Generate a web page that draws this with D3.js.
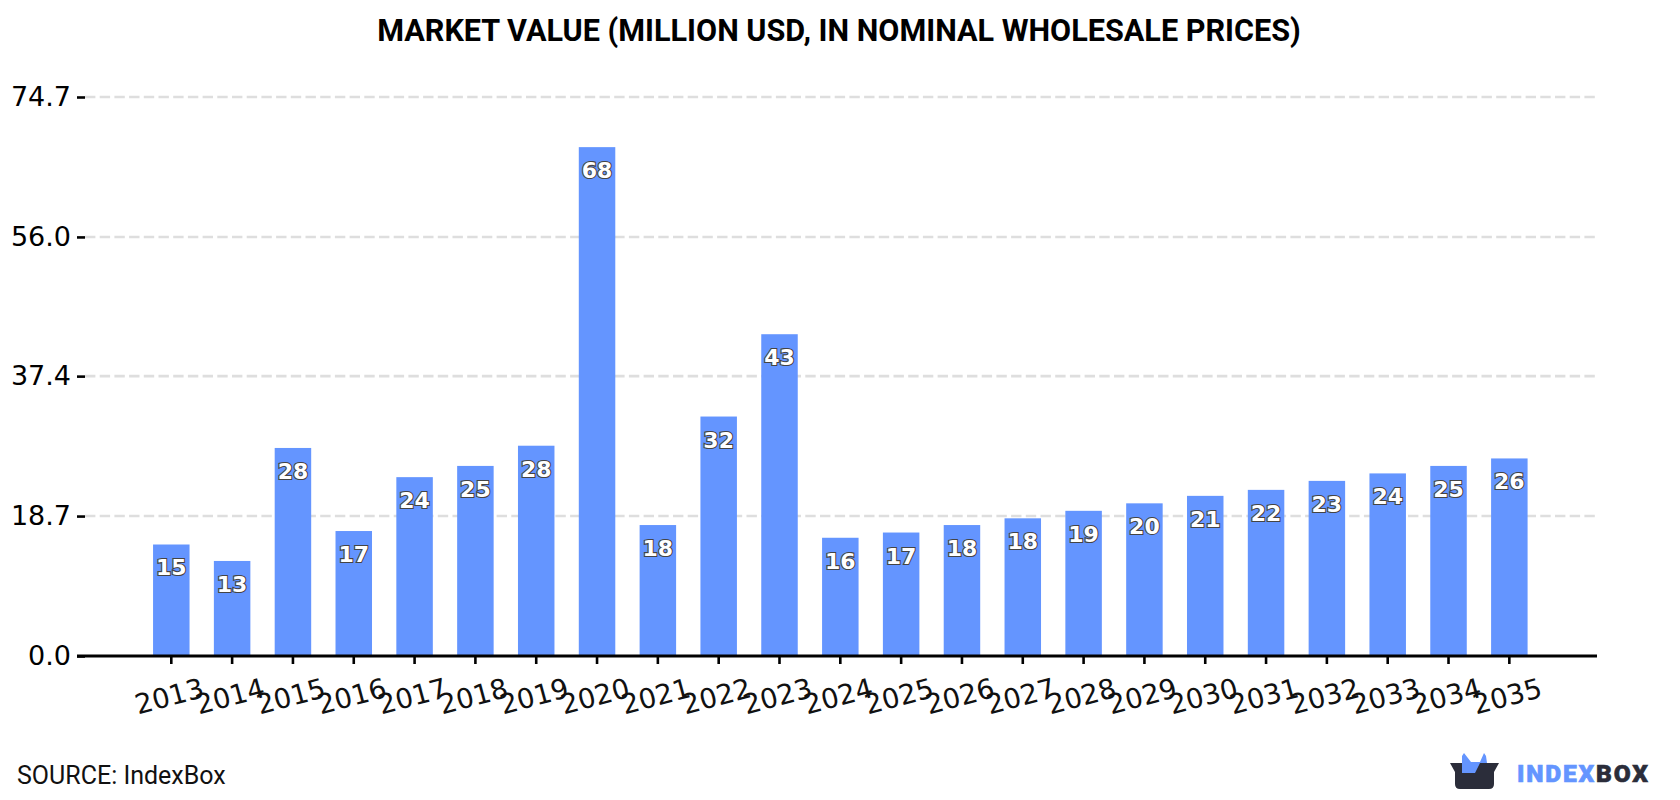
<!DOCTYPE html>
<html>
<head>
<meta charset="utf-8">
<script src="https://cdnjs.cloudflare.com/ajax/libs/d3/7.8.5/d3.min.js"></script>
<style>
  html, body { margin: 0; padding: 0; background: #fff; }
  svg { display: block; }
  .num { font-family: "DejaVu Sans", sans-serif; }
  .rob { font-family: Roboto, sans-serif; }
</style>
</head>
<body>
<svg id="chart" width="1680" height="800"></svg>
<script>
// Market value by year, million USD
const years = ["2013","2014","2015","2016","2017","2018","2019","2020","2021","2022","2023",
               "2024","2025","2026","2027","2028","2029","2030","2031","2032","2033","2034","2035"];
const marketValue = [14.9,12.7,27.8,16.7,23.9,25.4,28.1,68,17.5,32,43,
                     15.8,16.5,17.5,18.4,19.4,20.4,21.4,22.2,23.4,24.4,25.4,26.4];
const yTicks = [0, 18.7, 37.4, 56.0, 74.7];
const titleText = "MARKET VALUE (MILLION USD, IN NOMINAL WHOLESALE PRICES)";
const sourceText = "SOURCE: IndexBox";

const BLUE = "#6495ff", DARK = "#2b2d3a";
const svg = d3.select("#chart");
const frame = { left: 85, right: 1597, top: 97, bottom: 656 };

const step = 60.82;
const x = d3.scaleBand().domain(years)
  .range([171.3 - step / 2, 171.3 + step * 22.5])
  .paddingInner(0.4).paddingOuter(0.2);
const cx = d => x(d) + x.bandwidth() / 2;
const y = d3.scaleLinear().domain([0, 74.7]).range([frame.bottom, frame.top]);

svg.append("text").attr("class", "rob")
  .attr("x", 839).attr("y", 41).attr("text-anchor", "middle")
  .attr("font-size", 30.6).attr("font-weight", 700).attr("fill", "#000")
  .text(titleText);

// Horizontal grid
svg.append("g").selectAll("line").data(yTicks.filter(d => d > 0)).join("line")
  .attr("x1", frame.left).attr("x2", frame.right)
  .attr("y1", d => y(d)).attr("y2", d => y(d))
  .attr("stroke", "#dedede").attr("stroke-width", 2.6).attr("stroke-dasharray", "10.4 4.3");

// Value axis: tick marks and labels only
const yAxis = svg.append("g").attr("transform", `translate(${frame.left},0)`)
  .call(d3.axisLeft(y).tickValues(yTicks).tickFormat(d3.format(".1f")).tickSize(8).tickPadding(6));
yAxis.select(".domain").remove();
yAxis.selectAll("line").attr("stroke", "#000").attr("stroke-width", 2.6);
yAxis.selectAll("text").attr("class", "num").attr("font-size", 27).attr("fill", "#000")
  .attr("font-family", "DejaVu Sans");

// Bars
svg.append("g").selectAll("rect").data(years).join("rect")
  .attr("x", d => cx(d) - x.bandwidth() / 2)
  .attr("width", x.bandwidth())
  .attr("y", (d, i) => y(marketValue[i]))
  .attr("height", (d, i) => y(0) - y(marketValue[i]))
  .attr("fill", BLUE);

// Value labels inside the top of each bar
svg.append("g").selectAll("text").data(years).join("text")
  .attr("class", "num")
  .attr("x", d => cx(d))
  .attr("y", (d, i) => y(marketValue[i]) + 31)
  .attr("text-anchor", "middle")
  .attr("font-size", 22).attr("font-weight", 700)
  .attr("fill", "#fff").attr("stroke", "#444").attr("stroke-width", 2.2)
  .attr("paint-order", "stroke")
  .text((d, i) => d3.format(".0f")(marketValue[i]));

// Category axis with slanted labels
const xAxis = svg.append("g").attr("transform", `translate(0,${frame.bottom})`)
  .call(d3.axisBottom(x).tickSize(8).tickPadding(0));
xAxis.select(".domain").remove();
xAxis.selectAll("line").attr("stroke", "#000").attr("stroke-width", 2.6);
xAxis.selectAll("text")
  .attr("class", "num").attr("font-family", "DejaVu Sans")
  .attr("font-size", 27.5).attr("fill", "#111")
  .attr("text-anchor", "middle").attr("dy", null).attr("y", 0)
  .attr("transform", "translate(0.5,49.5) rotate(-15)");
svg.append("line")
  .attr("x1", 77).attr("x2", 1597).attr("y1", frame.bottom).attr("y2", frame.bottom)
  .attr("stroke", "#000").attr("stroke-width", 3);

svg.append("text").attr("class", "rob")
  .attr("x", 17).attr("y", 784).attr("font-size", 25).attr("fill", "#111")
  .text(sourceText);

// Brand mark: open box with two blue peaks, plus wordmark
const logo = svg.append("g");
logo.append("path").attr("fill", DARK)
  .attr("d", "M1450 763 L1499 763 L1494 772 L1494 784 Q1494 789 1489 789 L1460 789 Q1455 789 1455 784 L1455 772 Z");
logo.append("path").attr("fill", BLUE)
  .attr("d", "M1462 773 L1462 756 L1464 753 L1471 762 L1480 762 L1484 753 L1486 756 L1487 763 L1480 763 L1475 773 Z");
svg.append("text").attr("class", "rob")
  .attr("x", 1517).attr("y", 782.3).attr("font-size", 24.6).attr("font-weight", 900)
  .attr("letter-spacing", 1.8).attr("stroke-width", 0.6)
  .call(t => {
    t.append("tspan").attr("fill", BLUE).attr("stroke", BLUE).text("INDEX");
    t.append("tspan").attr("fill", DARK).attr("stroke", DARK).text("BOX");
  });
</script>
</body>
</html>
